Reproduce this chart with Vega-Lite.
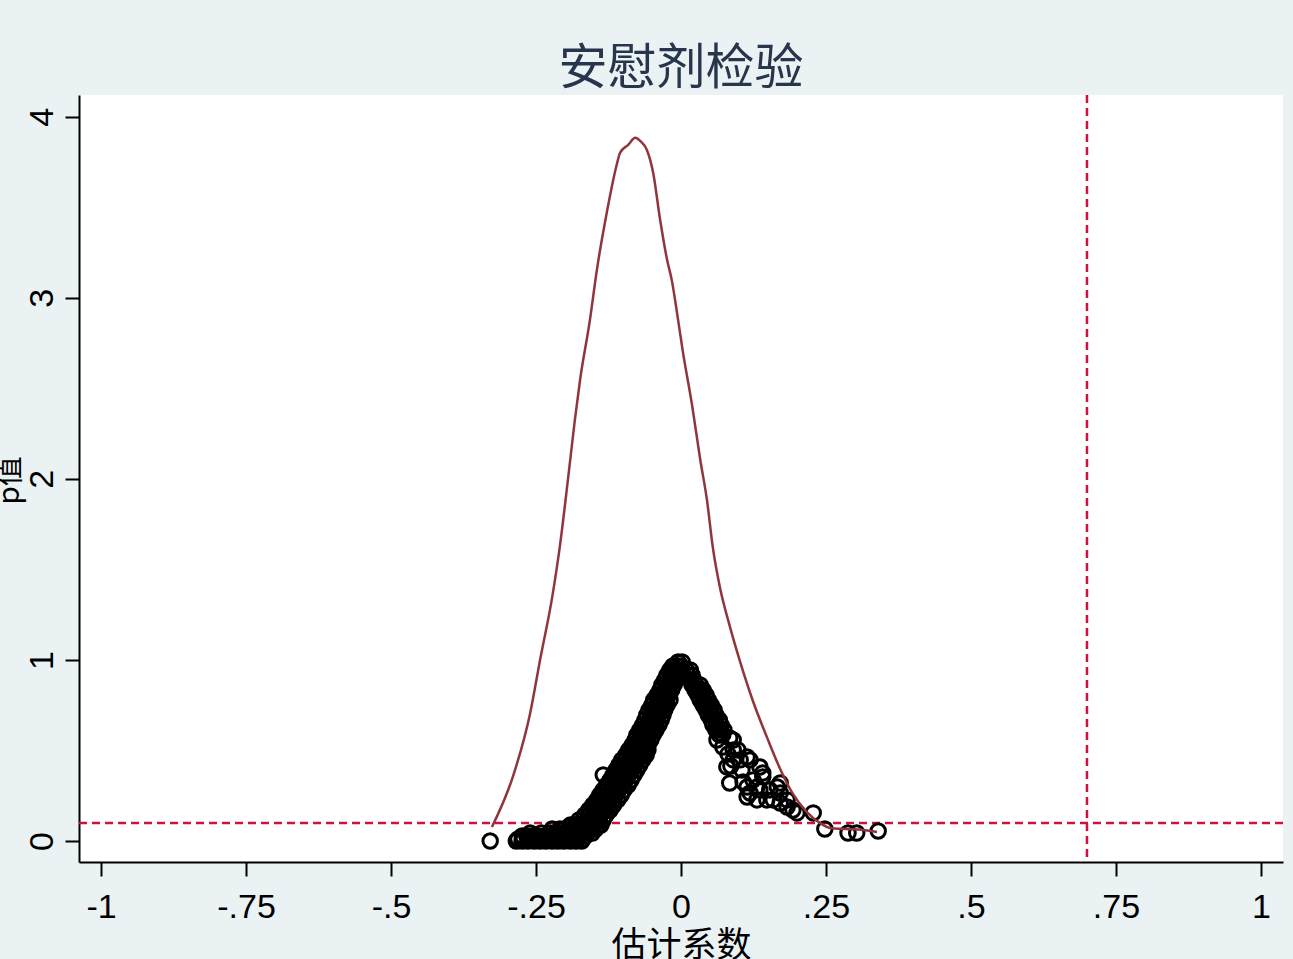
{
  "$schema": "https://vega.github.io/schema/vega-lite/v6.json",
  "width": 1204,
  "height": 767,
  "autosize": "none",
  "padding": {"left": 79, "top": 95, "right": 10, "bottom": 97},
  "background": "#EAF2F3",
  "view": {"fill": "#FFFFFF", "stroke": null},
  "title": {
    "text": "安慰剂检验",
    "font": "Noto Sans CJK SC",
    "fontSize": 49,
    "fontWeight": "normal",
    "color": "#27354D",
    "anchor": "middle",
    "baseline": "alphabetic",
    "offset": 8,
    "dy": 47
  },
  "config": {
    "axis": {
      "gridColor": "#EAF2F3",
      "gridWidth": 2.5,
      "gridOpacity": 1,
      "domainColor": "#000000",
      "domainWidth": 2,
      "tickColor": "#000000",
      "tickWidth": 2,
      "tickSize": 14,
      "labelFont": "Liberation Sans",
      "labelFontSize": 34,
      "labelColor": "#000000",
      "titleFont": "Noto Sans CJK SC",
      "titleFontWeight": "normal",
      "titleColor": "#000000"
    }
  },
  "datasets": {
    "kd": [
      {"b": -0.326, "density": 0.077},
      {"b": -0.290, "density": 0.354},
      {"b": -0.260, "density": 0.707},
      {"b": -0.243, "density": 1.000},
      {"b": -0.222, "density": 1.348},
      {"b": -0.209, "density": 1.624},
      {"b": -0.195, "density": 1.994},
      {"b": -0.183, "density": 2.326},
      {"b": -0.174, "density": 2.547},
      {"b": -0.157, "density": 2.878},
      {"b": -0.145, "density": 3.155},
      {"b": -0.128, "density": 3.470},
      {"b": -0.110, "density": 3.746},
      {"b": -0.105, "density": 3.801},
      {"b": -0.091, "density": 3.845},
      {"b": -0.079, "density": 3.884},
      {"b": -0.069, "density": 3.862},
      {"b": -0.059, "density": 3.818},
      {"b": -0.048, "density": 3.691},
      {"b": -0.036, "density": 3.431},
      {"b": -0.024, "density": 3.210},
      {"b": -0.016, "density": 3.099},
      {"b": -0.005, "density": 2.878},
      {"b": 0.003, "density": 2.707},
      {"b": 0.019, "density": 2.409},
      {"b": 0.033, "density": 2.110},
      {"b": 0.045, "density": 1.878},
      {"b": 0.055, "density": 1.619},
      {"b": 0.067, "density": 1.403},
      {"b": 0.084, "density": 1.188},
      {"b": 0.102, "density": 0.989},
      {"b": 0.124, "density": 0.773},
      {"b": 0.148, "density": 0.575},
      {"b": 0.171, "density": 0.398},
      {"b": 0.193, "density": 0.260},
      {"b": 0.217, "density": 0.160},
      {"b": 0.240, "density": 0.099},
      {"b": 0.257, "density": 0.072},
      {"b": 0.286, "density": 0.066},
      {"b": 0.314, "density": 0.061},
      {"b": 0.338, "density": 0.050}
    ],
    "pts": [
      {"b": -0.005, "p": 0.989}, {"b": 0.002, "p": 0.989},
      {"b": -0.014, "p": 0.967}, {"b": -0.007, "p": 0.967}, {"b": 0.000, "p": 0.967},
      {"b": -0.019, "p": 0.945}, {"b": -0.012, "p": 0.945}, {"b": -0.005, "p": 0.945}, {"b": 0.002, "p": 0.945},
      {"b": -0.024, "p": 0.917}, {"b": -0.017, "p": 0.917}, {"b": -0.010, "p": 0.917}, {"b": -0.003, "p": 0.917},
      {"b": -0.028, "p": 0.890}, {"b": -0.021, "p": 0.890}, {"b": -0.014, "p": 0.890}, {"b": -0.007, "p": 0.890},
      {"b": -0.033, "p": 0.862}, {"b": -0.026, "p": 0.862}, {"b": -0.019, "p": 0.862}, {"b": -0.012, "p": 0.862},
      {"b": -0.036, "p": 0.834}, {"b": -0.029, "p": 0.834}, {"b": -0.022, "p": 0.834}, {"b": -0.016, "p": 0.834},
      {"b": -0.041, "p": 0.807}, {"b": -0.034, "p": 0.807}, {"b": -0.028, "p": 0.807}, {"b": -0.021, "p": 0.807},
      {"b": -0.047, "p": 0.779}, {"b": -0.040, "p": 0.779}, {"b": -0.033, "p": 0.779}, {"b": -0.026, "p": 0.779}, {"b": -0.019, "p": 0.779},
      {"b": -0.050, "p": 0.751}, {"b": -0.043, "p": 0.751}, {"b": -0.036, "p": 0.751}, {"b": -0.029, "p": 0.751}, {"b": -0.024, "p": 0.751},
      {"b": -0.055, "p": 0.724}, {"b": -0.048, "p": 0.724}, {"b": -0.041, "p": 0.724}, {"b": -0.034, "p": 0.724}, {"b": -0.028, "p": 0.724},
      {"b": -0.059, "p": 0.696}, {"b": -0.052, "p": 0.696}, {"b": -0.045, "p": 0.696}, {"b": -0.038, "p": 0.696}, {"b": -0.031, "p": 0.696},
      {"b": -0.062, "p": 0.669}, {"b": -0.055, "p": 0.669}, {"b": -0.048, "p": 0.669}, {"b": -0.041, "p": 0.669}, {"b": -0.034, "p": 0.669},
      {"b": -0.066, "p": 0.641}, {"b": -0.059, "p": 0.641}, {"b": -0.052, "p": 0.641}, {"b": -0.045, "p": 0.641}, {"b": -0.038, "p": 0.641},
      {"b": -0.071, "p": 0.613}, {"b": -0.064, "p": 0.613}, {"b": -0.057, "p": 0.613}, {"b": -0.050, "p": 0.613}, {"b": -0.043, "p": 0.613},
      {"b": -0.076, "p": 0.586}, {"b": -0.069, "p": 0.586}, {"b": -0.062, "p": 0.586}, {"b": -0.055, "p": 0.586}, {"b": -0.048, "p": 0.586},
      {"b": -0.079, "p": 0.558}, {"b": -0.072, "p": 0.558}, {"b": -0.066, "p": 0.558}, {"b": -0.059, "p": 0.558}, {"b": -0.052, "p": 0.558},
      {"b": -0.084, "p": 0.530}, {"b": -0.078, "p": 0.530}, {"b": -0.071, "p": 0.530}, {"b": -0.064, "p": 0.530}, {"b": -0.057, "p": 0.530},
      {"b": -0.090, "p": 0.503}, {"b": -0.083, "p": 0.503}, {"b": -0.076, "p": 0.503}, {"b": -0.069, "p": 0.503}, {"b": -0.062, "p": 0.503}, {"b": -0.057, "p": 0.503},
      {"b": -0.095, "p": 0.475}, {"b": -0.088, "p": 0.475}, {"b": -0.081, "p": 0.475}, {"b": -0.074, "p": 0.475}, {"b": -0.067, "p": 0.475}, {"b": -0.060, "p": 0.475},
      {"b": -0.102, "p": 0.448}, {"b": -0.095, "p": 0.448}, {"b": -0.088, "p": 0.448}, {"b": -0.081, "p": 0.448}, {"b": -0.074, "p": 0.448}, {"b": -0.066, "p": 0.448},
      {"b": -0.107, "p": 0.420}, {"b": -0.100, "p": 0.420}, {"b": -0.093, "p": 0.420}, {"b": -0.086, "p": 0.420}, {"b": -0.079, "p": 0.420}, {"b": -0.071, "p": 0.420},
      {"b": -0.112, "p": 0.392}, {"b": -0.105, "p": 0.392}, {"b": -0.098, "p": 0.392}, {"b": -0.091, "p": 0.392}, {"b": -0.084, "p": 0.392}, {"b": -0.076, "p": 0.392},
      {"b": -0.117, "p": 0.365}, {"b": -0.110, "p": 0.365}, {"b": -0.103, "p": 0.365}, {"b": -0.097, "p": 0.365}, {"b": -0.090, "p": 0.365}, {"b": -0.081, "p": 0.365},
      {"b": -0.122, "p": 0.337}, {"b": -0.116, "p": 0.337}, {"b": -0.109, "p": 0.337}, {"b": -0.102, "p": 0.337}, {"b": -0.095, "p": 0.337}, {"b": -0.086, "p": 0.337},
      {"b": -0.128, "p": 0.309}, {"b": -0.121, "p": 0.309}, {"b": -0.114, "p": 0.309}, {"b": -0.107, "p": 0.309}, {"b": -0.100, "p": 0.309}, {"b": -0.091, "p": 0.309},
      {"b": -0.134, "p": 0.282}, {"b": -0.128, "p": 0.282}, {"b": -0.121, "p": 0.282}, {"b": -0.114, "p": 0.282}, {"b": -0.107, "p": 0.282}, {"b": -0.098, "p": 0.282},
      {"b": -0.140, "p": 0.254}, {"b": -0.133, "p": 0.254}, {"b": -0.126, "p": 0.254}, {"b": -0.119, "p": 0.254}, {"b": -0.112, "p": 0.254}, {"b": -0.103, "p": 0.254},
      {"b": -0.145, "p": 0.227}, {"b": -0.138, "p": 0.227}, {"b": -0.131, "p": 0.227}, {"b": -0.124, "p": 0.227}, {"b": -0.117, "p": 0.227}, {"b": -0.109, "p": 0.227},
      {"b": -0.152, "p": 0.199}, {"b": -0.145, "p": 0.199}, {"b": -0.138, "p": 0.199}, {"b": -0.131, "p": 0.199}, {"b": -0.124, "p": 0.199}, {"b": -0.116, "p": 0.199},
      {"b": -0.159, "p": 0.171}, {"b": -0.152, "p": 0.171}, {"b": -0.145, "p": 0.171}, {"b": -0.138, "p": 0.171}, {"b": -0.131, "p": 0.171}, {"b": -0.122, "p": 0.171},
      {"b": -0.166, "p": 0.144}, {"b": -0.159, "p": 0.144}, {"b": -0.152, "p": 0.144}, {"b": -0.145, "p": 0.144}, {"b": -0.138, "p": 0.144}, {"b": -0.129, "p": 0.144},
      {"b": -0.176, "p": 0.116}, {"b": -0.169, "p": 0.116}, {"b": -0.162, "p": 0.116}, {"b": -0.155, "p": 0.116}, {"b": -0.148, "p": 0.116}, {"b": -0.141, "p": 0.116}, {"b": -0.134, "p": 0.116},
      {"b": -0.191, "p": 0.088}, {"b": -0.184, "p": 0.088}, {"b": -0.178, "p": 0.088}, {"b": -0.171, "p": 0.088}, {"b": -0.164, "p": 0.088}, {"b": -0.157, "p": 0.088}, {"b": -0.150, "p": 0.088}, {"b": -0.143, "p": 0.088}, {"b": -0.138, "p": 0.088},
      {"b": -0.222, "p": 0.066}, {"b": -0.209, "p": 0.066}, {"b": -0.202, "p": 0.066}, {"b": -0.195, "p": 0.066}, {"b": -0.188, "p": 0.066}, {"b": -0.181, "p": 0.066}, {"b": -0.174, "p": 0.066}, {"b": -0.167, "p": 0.066}, {"b": -0.160, "p": 0.066}, {"b": -0.153, "p": 0.066}, {"b": -0.147, "p": 0.066},
      {"b": -0.260, "p": 0.044}, {"b": -0.241, "p": 0.044}, {"b": -0.226, "p": 0.044}, {"b": -0.216, "p": 0.044}, {"b": -0.205, "p": 0.044}, {"b": -0.195, "p": 0.044}, {"b": -0.184, "p": 0.044}, {"b": -0.174, "p": 0.044}, {"b": -0.164, "p": 0.044}, {"b": -0.153, "p": 0.044},
      {"b": -0.274, "p": 0.028}, {"b": -0.266, "p": 0.028}, {"b": -0.257, "p": 0.028}, {"b": -0.247, "p": 0.028}, {"b": -0.236, "p": 0.028}, {"b": -0.226, "p": 0.028}, {"b": -0.216, "p": 0.028}, {"b": -0.205, "p": 0.028}, {"b": -0.195, "p": 0.028}, {"b": -0.184, "p": 0.028}, {"b": -0.174, "p": 0.028}, {"b": -0.164, "p": 0.028},
      {"b": -0.281, "p": 0.011}, {"b": -0.272, "p": 0.011}, {"b": -0.262, "p": 0.011}, {"b": -0.252, "p": 0.011}, {"b": -0.241, "p": 0.011}, {"b": -0.231, "p": 0.011}, {"b": -0.221, "p": 0.011}, {"b": -0.210, "p": 0.011}, {"b": -0.200, "p": 0.011}, {"b": -0.190, "p": 0.011}, {"b": -0.179, "p": 0.011}, {"b": -0.169, "p": 0.011},
      {"b": -0.284, "p": 0.000}, {"b": -0.274, "p": 0.000}, {"b": -0.264, "p": 0.000}, {"b": -0.253, "p": 0.000}, {"b": -0.243, "p": 0.000}, {"b": -0.233, "p": 0.000}, {"b": -0.222, "p": 0.000}, {"b": -0.212, "p": 0.000}, {"b": -0.202, "p": 0.000}, {"b": -0.191, "p": 0.000}, {"b": -0.181, "p": 0.000}, {"b": -0.171, "p": 0.000},
      {"b": -0.134, "p": 0.365}, {"b": -0.329, "p": 0.000},
      {"b": 0.009, "p": 0.945}, {"b": 0.016, "p": 0.945},
      {"b": 0.012, "p": 0.917}, {"b": 0.019, "p": 0.917},
      {"b": 0.016, "p": 0.890}, {"b": 0.022, "p": 0.890},
      {"b": 0.019, "p": 0.862}, {"b": 0.026, "p": 0.862}, {"b": 0.033, "p": 0.862},
      {"b": 0.024, "p": 0.834}, {"b": 0.031, "p": 0.834}, {"b": 0.038, "p": 0.834},
      {"b": 0.029, "p": 0.807}, {"b": 0.036, "p": 0.807}, {"b": 0.043, "p": 0.807},
      {"b": 0.033, "p": 0.779}, {"b": 0.040, "p": 0.779}, {"b": 0.047, "p": 0.779},
      {"b": 0.038, "p": 0.751}, {"b": 0.045, "p": 0.751}, {"b": 0.052, "p": 0.751},
      {"b": 0.043, "p": 0.724}, {"b": 0.050, "p": 0.724}, {"b": 0.057, "p": 0.724},
      {"b": 0.047, "p": 0.696}, {"b": 0.053, "p": 0.696}, {"b": 0.060, "p": 0.696},
      {"b": 0.052, "p": 0.669}, {"b": 0.059, "p": 0.669}, {"b": 0.066, "p": 0.669},
      {"b": 0.055, "p": 0.641}, {"b": 0.062, "p": 0.641}, {"b": 0.069, "p": 0.641},
      {"b": 0.060, "p": 0.613}, {"b": 0.067, "p": 0.613}, {"b": 0.074, "p": 0.613},
      {"b": 0.066, "p": 0.586}, {"b": 0.072, "p": 0.586},
      {"b": 0.062, "p": 0.558}, {"b": 0.084, "p": 0.569}, {"b": 0.090, "p": 0.558}, {"b": 0.072, "p": 0.519},
      {"b": 0.090, "p": 0.503}, {"b": 0.098, "p": 0.503}, {"b": 0.081, "p": 0.480}, {"b": 0.079, "p": 0.409},
      {"b": 0.086, "p": 0.414}, {"b": 0.090, "p": 0.448}, {"b": 0.102, "p": 0.448}, {"b": 0.114, "p": 0.464},
      {"b": 0.119, "p": 0.448}, {"b": 0.105, "p": 0.392}, {"b": 0.136, "p": 0.409}, {"b": 0.141, "p": 0.376},
      {"b": 0.084, "p": 0.320}, {"b": 0.107, "p": 0.326}, {"b": 0.114, "p": 0.298}, {"b": 0.124, "p": 0.337},
      {"b": 0.131, "p": 0.298}, {"b": 0.119, "p": 0.265}, {"b": 0.136, "p": 0.282}, {"b": 0.114, "p": 0.243},
      {"b": 0.131, "p": 0.227}, {"b": 0.148, "p": 0.227}, {"b": 0.153, "p": 0.282}, {"b": 0.166, "p": 0.298},
      {"b": 0.171, "p": 0.320}, {"b": 0.171, "p": 0.265}, {"b": 0.159, "p": 0.227}, {"b": 0.171, "p": 0.210},
      {"b": 0.183, "p": 0.227}, {"b": 0.183, "p": 0.188}, {"b": 0.193, "p": 0.171}, {"b": 0.200, "p": 0.155},
      {"b": 0.228, "p": 0.155}, {"b": 0.248, "p": 0.066}, {"b": 0.288, "p": 0.044}, {"b": 0.303, "p": 0.044},
      {"b": 0.340, "p": 0.055}, {"b": 0.141, "p": 0.354}
    ]
  },
  "layer": [
    {
      "data": {"values": [{}]},
      "mark": {"type": "rule", "color": "#D0103F", "strokeWidth": 2.5, "strokeDash": [8, 5]},
      "encoding": {
        "y": {"datum": 0.1, "type": "quantitative"}
      }
    },
    {
      "data": {"values": [{}]},
      "mark": {"type": "rule", "color": "#D0103F", "strokeWidth": 2.5, "strokeDash": [8, 5]},
      "encoding": {
        "x": {"datum": 0.7, "type": "quantitative"}
      }
    },
    {
      "data": {"name": "pts"},
      "mark": {"type": "point", "shape": "circle", "filled": false, "size": 210, "strokeWidth": 3, "color": "#000000", "opacity": 1},
      "encoding": {
        "x": {
          "field": "b",
          "type": "quantitative",
          "scale": {"domain": [-1.038, 1.038], "nice": false, "zero": false},
          "axis": {
            "values": [-1, -0.75, -0.5, -0.25, 0, 0.25, 0.5, 0.75, 1],
            "labelExpr": "replace(toString(datum.value), '0.', '.')",
            "labelPadding": 14,
            "title": "估计系数",
            "titleFontSize": 35,
            "titleX": 602,
            "titleY": 94,
            "titleAlign": "center",
            "titleBaseline": "alphabetic"
          }
        },
        "y": {
          "field": "p",
          "type": "quantitative",
          "scale": {"domain": [-0.116, 4.12], "nice": false, "zero": false},
          "axis": {
            "values": [0, 1, 2, 3, 4],
            "labelExpr": "toString(datum.value)",
            "labelAngle": -90,
            "labelAlign": "center",
            "labelBaseline": "bottom",
            "labelPadding": 6,
            "title": "p值",
            "titleFontSize": 30,
            "titleAngle": -90,
            "titleX": -61,
            "titleY": 385,
            "titleAlign": "center",
            "titleBaseline": "alphabetic"
          }
        }
      }
    },
    {
      "data": {"name": "kd"},
      "mark": {"type": "line", "color": "#90353B", "strokeWidth": 2.5, "interpolate": "monotone"},
      "encoding": {
        "x": {"field": "b", "type": "quantitative"},
        "y": {"field": "density", "type": "quantitative"}
      }
    }
  ]
}
